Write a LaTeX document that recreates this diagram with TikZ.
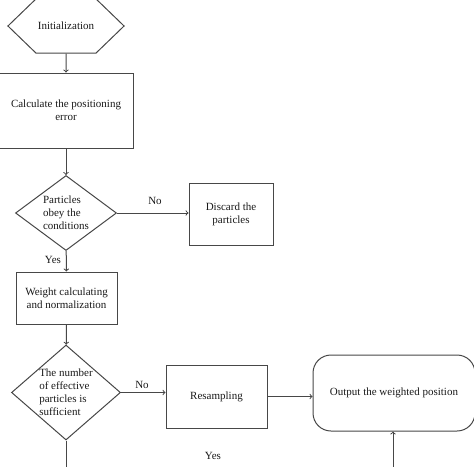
\documentclass[tikz,border=0pt]{standalone}
\usepackage{fontspec}
\setmainfont{Liberation Serif}
\usetikzlibrary{shapes.geometric,shapes.symbols}
\begin{document}
\begin{tikzpicture}[x=1pt,y=-1pt,
    font=\fontsize{11}{13}\selectfont,
    box/.style={draw=black!72,line width=1pt,rectangle,align=center,text=black!90,inner sep=2pt},
    choice/.style={draw=black!72,line width=1pt,diamond,align=left,text=black!90},
    start/.style={draw=black!72,line width=1pt,signal,signal to=west and east,signal pointer angle=88,text=black!90,minimum width=116pt,minimum height=54pt,inner sep=2pt},
    final/.style={box,rounded corners=18pt},
    lbl/.style={text=black!90}]
      \useasboundingbox (0,0) rectangle (474,466);
      \draw
        (66,26) node[start] (init){Initialization}
        (66,110.5) node[box,minimum width=134pt,minimum height=75pt] (calc){Calculate the positioning\\error}
        (66,213) node[choice,aspect=1.35,inner sep=0pt,minimum width=101pt,minimum height=75pt] (cond){Particles\\obey the\\conditions}
        (231,214) node[box,minimum width=84pt,minimum height=62pt] (discard){Discard the\\particles}
        (66.5,298) node[box,minimum width=101pt,minimum height=52pt] (weight){Weight calculating\\and normalization}
        (66,392.5) node[choice,aspect=1.15,inner sep=-3pt,minimum width=109pt,minimum height=95pt] (suff){The number\\of effective\\particles is\\sufficient}
        (216.5,396.5) node[box,minimum width=101pt,minimum height=63pt] (resamp){Resampling}
        (394,393) node[final,minimum width=162pt,minimum height=76pt] (output){Output the weighted position}
        (155,201) node[lbl] (noA){No}
        (53,260) node[lbl] (yesA){Yes}
        (142,385) node[lbl] (noB){No}
        (213,456) node[lbl] (yesB){Yes};
      \coordinate (downA) at (66,470);
      \coordinate (upB) at (393,470);
      \begin{scope}[->,draw=black!72,line width=1pt]
        \draw (init) to (calc);
        \draw (calc) to (cond);
        \draw (cond.east) to (cond.east -| discard.west);
        \draw (cond) to (weight);
        \draw (weight) to (suff);
        \draw (suff.east) to (suff.east -| resamp.west);
        \draw (resamp.east) to (resamp.east -| output.west);
        \draw[-] (suff.south) to (downA);
        \draw (upB) to (upB |- output.south);
      \end{scope}
    \end{tikzpicture}
\end{document}
